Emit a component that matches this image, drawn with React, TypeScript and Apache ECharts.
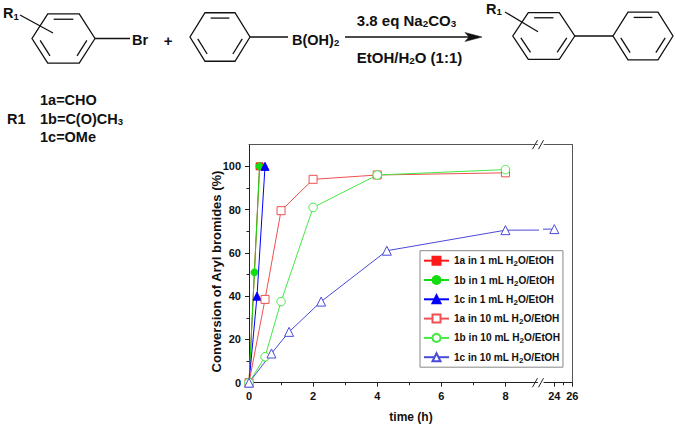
import React, { useEffect, useRef } from "react";
import * as echarts from "echarts";

// ---------- data ----------
const seriesNames = [
  "1a in 1 mL H2O/EtOH",
  "1b in 1 mL H2O/EtOH",
  "1c in 1 mL H2O/EtOH",
  "1a in 10 mL H2O/EtOH",
  "1b in 10 mL H2O/EtOH",
  "1c in 10 mL H2O/EtOH",
];
const a1mL = [[0, 0], [0.33, 100]];
const b1mL = [[0, 0], [0.17, 51], [0.33, 100]];
const c1mL = [[0, 0], [0.25, 40], [0.5, 100]];
const a10mL = [[0, 0], [0.5, 38.5], [1, 79.5], [2, 94], [4, 96], [8, 97]];
const b10mL = [[0, 0], [0.5, 12], [1, 37.5], [2, 81], [4, 96], [8, 98.5]];
const c10mL = [[0, 0], [0.7, 13.5], [1.25, 23.5], [2.25, 37.5], [4.3, 61], [8, 70.5], [24, 71]];

const xTicksMain = [0, 2, 4, 6, 8];
const xMinorMain = [1, 3, 5, 7];
const xTicksBreak = [24, 26];
const xMinorBreak = [25];
const yTicks = [0, 20, 40, 60, 80, 100];
const yMinor = [10, 30, 50, 70, 90];

const FONT = '"Liberation Sans", Arial, Helvetica, sans-serif';
const INK = "#111";
const LW = 1.3;

// ---------- scheme drawing helpers ----------
function hexagon(cx: number, cy: number, rx: number, ry: number): any[] {
  const v: number[][] = [];
  for (let k = 0; k < 6; k++) {
    const a = (k * Math.PI) / 3;
    v.push([cx + rx * Math.cos(a), cy + ry * Math.sin(a)]);
  }
  const els: any[] = [
    { type: "polygon", shape: { points: v }, style: { fill: "none", stroke: INK, lineWidth: LW } },
  ];
  const inner = [[4, 5], [0, 1], [2, 3]];
  inner.forEach(([i, j]) => {
    const p = [cx + 0.78 * (v[i][0] - cx), cy + 0.78 * (v[i][1] - cy)];
    const q = [cx + 0.78 * (v[j][0] - cx), cy + 0.78 * (v[j][1] - cy)];
    const dx = q[0] - p[0];
    const dy = q[1] - p[1];
    const f = 0.1;
    els.push({
      type: "line",
      shape: { x1: p[0] + dx * f, y1: p[1] + dy * f, x2: q[0] - dx * f, y2: q[1] - dy * f },
      style: { stroke: INK, lineWidth: LW },
    });
  });
  return els;
}

function bond(x1: number, y1: number, x2: number, y2: number): any {
  return { type: "line", shape: { x1, y1, x2, y2 }, style: { stroke: INK, lineWidth: LW } };
}

const subRich = (size: number) => ({
  s: { fontFamily: FONT, fontWeight: "bold", fontSize: size, lineHeight: 8, verticalAlign: "bottom", fill: INK },
});

function label(text: string, x: number, y: number, size: number, align = "left"): any {
  return {
    type: "text",
    x,
    y,
    style: {
      text,
      font: `bold ${size}px ${FONT}`,
      fill: INK,
      align,
      textAlign: align,
      verticalAlign: "middle",
      textVerticalAlign: "middle",
      lineHeight: 16,
      rich: subRich(size * 0.66),
    },
  };
}

function buildScheme(): any[] {
  const els: any[] = [];
  // aryl bromide
  els.push(...hexagon(63.5, 38.5, 31.5, 28.5));
  els.push(bond(20, 15, 53, 33));
  els.push(label("R{s|1}", 3, 13, 14.5));
  els.push(bond(95, 38.5, 130, 38.5));
  els.push(label("Br", 132, 40, 14.5));
  els.push(label("+", 168, 40, 15, "center"));
  // phenylboronic acid
  els.push(...hexagon(220, 37, 30, 28));
  els.push(bond(250, 37, 288, 37));
  els.push(label("B(OH){s|2}", 292, 39.5, 14.5));
  // arrow
  els.push({ type: "line", shape: { x1: 345, y1: 37, x2: 470, y2: 37 }, style: { stroke: INK, lineWidth: 1.4 } });
  els.push({
    type: "polygon",
    shape: { points: [[482, 37], [465, 32.5], [469, 37], [465, 41.5]] },
    style: { fill: INK, stroke: INK, lineWidth: 0.5 },
  });
  els.push(label("3.8 eq Na{s|2}CO{s|3}", 406.5, 20, 15, "center"));
  els.push(label("EtOH/H{s|2}O (1:1)", 409.5, 57, 15, "center"));
  // product biphenyl
  els.push(...hexagon(543.8, 36, 31, 27));
  els.push(bond(505, 12, 538, 31.7));
  els.push(label("R{s|1}", 486, 8.5, 14.5));
  els.push(bond(574.8, 36, 613, 36));
  els.push(...hexagon(643, 36, 30, 27.5));
  // R1 definitions
  els.push(label("R1", 7, 118.5, 14.5));
  els.push(label("1a=CHO", 40, 100, 14.5));
  els.push(label("1b=C(O)CH{s|3}", 40, 118.5, 14.5));
  els.push(label("1c=OMe", 40, 137, 14.5));
  // axis break marks
  const brk = (yc: number) => [
    { type: "line", shape: { x1: 532.5, y1: yc + 4.5, x2: 537.5, y2: yc - 4.5 }, style: { stroke: "#222", lineWidth: 1 } },
    { type: "line", shape: { x1: 538.5, y1: yc + 4.5, x2: 543.5, y2: yc - 4.5 }, style: { stroke: "#222", lineWidth: 1 } },
  ];
  els.push(...brk(382.7), ...brk(144.7));
  // axis titles
  els.push({
    type: "text",
    x: 216,
    y: 271.5,
    rotation: Math.PI / 2,
    style: {
      text: "Conversion of Aryl bromides (%)",
      font: `bold 13px ${FONT}`,
      fill: INK,
      align: "center",
      textAlign: "center",
      verticalAlign: "middle",
      textVerticalAlign: "middle",
    },
  });
  els.push({
    type: "text",
    x: 411,
    y: 417.3,
    style: {
      text: "time (h)",
      font: `bold 12px ${FONT}`,
      fill: INK,
      align: "center",
      textAlign: "center",
      verticalAlign: "middle",
      textVerticalAlign: "middle",
    },
  });
  return els;
}

// ---------- chart ----------
const tickFont = { fontFamily: FONT, fontWeight: "bold", fontSize: 11, color: INK } as any;

function mkSeries(
  name: string,
  data: number[][],
  symbol: string,
  size: number,
  fill: string,
  color: string,
  lineColor: string,
  xi: number,
  yi: number
): any {
  return {
    type: "line",
    name,
    data,
    xAxisIndex: xi,
    yAxisIndex: yi,
    symbol,
    symbolSize: size,
    showAllSymbol: true,
    clip: true,
    itemStyle: { color: fill, borderColor: color, borderWidth: 1 },
    lineStyle: { color: lineColor, width: 1 },
    emphasis: { disabled: true },
  };
}

function xAxisDef(grid: number, min: number, max: number, position: string, opts: any): any {
  return {
    type: "value",
    gridIndex: grid,
    min,
    max,
    position,
    splitLine: { show: false },
    axisLine: { show: false, onZero: false, lineStyle: { color: "#222", width: 1 } },
    axisTick: { show: false },
    axisLabel: { show: false },
    ...opts,
  };
}

export default function App() {
  const ref = useRef<HTMLDivElement>(null);
  useEffect(() => {
    if (!ref.current) return;
    const chart = echarts.init(ref.current, undefined, { renderer: "svg" });
    const red = "#ff1a1a";
    const redL = "#ee5050";
    const green = "#11dd11";
    const greenL = "#44e844";
    const blue = "#0000ff";
    const blueL = "#4a4ad8";
    const option: any = {
      animation: false,
      textStyle: { fontFamily: FONT },
      grid: [
        { left: 249, top: 144.7, width: 288.5, height: 238, outerBoundsMode: "none", containLabel: false },
        { left: 544, top: 144.7, width: 28.3, height: 238, outerBoundsMode: "none", containLabel: false },
      ],
      xAxis: [
        xAxisDef(0, 0, 9, "bottom", {
          axisLine: { show: true, onZero: false, lineStyle: { color: "#222", width: 1 } },
          axisTick: { show: true, customValues: xTicksMain, length: 4, lineStyle: { color: "#222" } },
          axisLabel: { show: true, customValues: xTicksMain, margin: 8, ...tickFont },
        }),
        xAxisDef(1, 22.85, 26, "bottom", {
          axisLine: { show: true, onZero: false, lineStyle: { color: "#222", width: 1 } },
          axisTick: { show: true, customValues: xTicksBreak, length: 4, lineStyle: { color: "#222" } },
          axisLabel: { show: true, customValues: xTicksBreak, margin: 8, ...tickFont },
        }),
        xAxisDef(0, 0, 9, "top", {
          axisLine: { show: true, onZero: false, lineStyle: { color: "#555", width: 1 } },
        }),
        xAxisDef(1, 22.85, 26, "top", {
          axisLine: { show: true, onZero: false, lineStyle: { color: "#555", width: 1 } },
        }),
        xAxisDef(0, 0, 9, "bottom", {
          axisTick: { show: true, customValues: xMinorMain, length: 2.5, lineStyle: { color: "#222" } },
        }),
        xAxisDef(1, 22.85, 26, "bottom", {
          axisTick: { show: true, customValues: xMinorBreak, length: 2.5, lineStyle: { color: "#222" } },
        }),
      ],
      yAxis: [
        {
          type: "value",
          gridIndex: 0,
          min: 0,
          max: 110,
          position: "left",
          splitLine: { show: false },
          axisLine: { show: true, onZero: false, lineStyle: { color: "#222", width: 1 } },
          axisTick: { show: true, customValues: yTicks, length: 4, lineStyle: { color: "#222" } },
          axisLabel: { show: true, customValues: yTicks, margin: 8, ...tickFont },
        },
        {
          type: "value",
          gridIndex: 1,
          min: 0,
          max: 110,
          position: "right",
          splitLine: { show: false },
          axisLine: { show: true, onZero: false, lineStyle: { color: "#555", width: 1 } },
          axisTick: { show: false },
          axisLabel: { show: false },
        },
        {
          type: "value",
          gridIndex: 0,
          min: 0,
          max: 110,
          position: "left",
          splitLine: { show: false },
          axisLine: { show: false, onZero: false },
          axisTick: { show: true, customValues: yMinor, length: 2.5, lineStyle: { color: "#222" } },
          axisLabel: { show: false },
        },
      ],
      legend: {
        show: true,
        orient: "vertical",
        left: 420,
        top: 250.7,
        data: seriesNames,
        itemWidth: 25,
        itemHeight: 10,
        itemGap: 5.3,
        padding: [3, 3, 3, 3],
        borderColor: "#888",
        borderWidth: 1,
        backgroundColor: "#fff",
        selectedMode: false,
        textStyle: {
          fontFamily: FONT,
          fontWeight: "bold",
          fontSize: 10.1,
          color: INK,
          lineHeight: 14,
          rich: {
            s: { fontFamily: FONT, fontWeight: "bold", fontSize: 8, lineHeight: 7, verticalAlign: "bottom", color: INK },
          },
        },
        formatter: (n: string) => n.replace("H2O", "H{s|2}O"),
      },
      series: [
        mkSeries(seriesNames[0], a1mL, "rect", 7, red, red, red, 0, 0),
        mkSeries(seriesNames[1], b1mL, "circle", 7, green, green, green, 0, 0),
        mkSeries(seriesNames[2], c1mL, "triangle", 8, blue, blue, blue, 0, 0),
        mkSeries(seriesNames[3], a10mL, "rect", 8, "#fff", redL, redL, 0, 0),
        mkSeries(seriesNames[4], b10mL, "circle", 8.5, "#fff", greenL, greenL, 0, 0),
        mkSeries(seriesNames[5], c10mL, "triangle", 9, "#fff", blueL, blueL, 0, 0),
        mkSeries(seriesNames[5], c10mL, "triangle", 9, "#fff", blueL, blueL, 1, 1),
      ],
      graphic: { elements: buildScheme() },
    };
    chart.setOption(option);
    return () => chart.dispose();
  }, []);
  return (
    <div
      ref={ref}
      style={{ position: "absolute", left: 0, top: 0, width: 675, height: 426, background: "#fff" }}
    />
  );
}
